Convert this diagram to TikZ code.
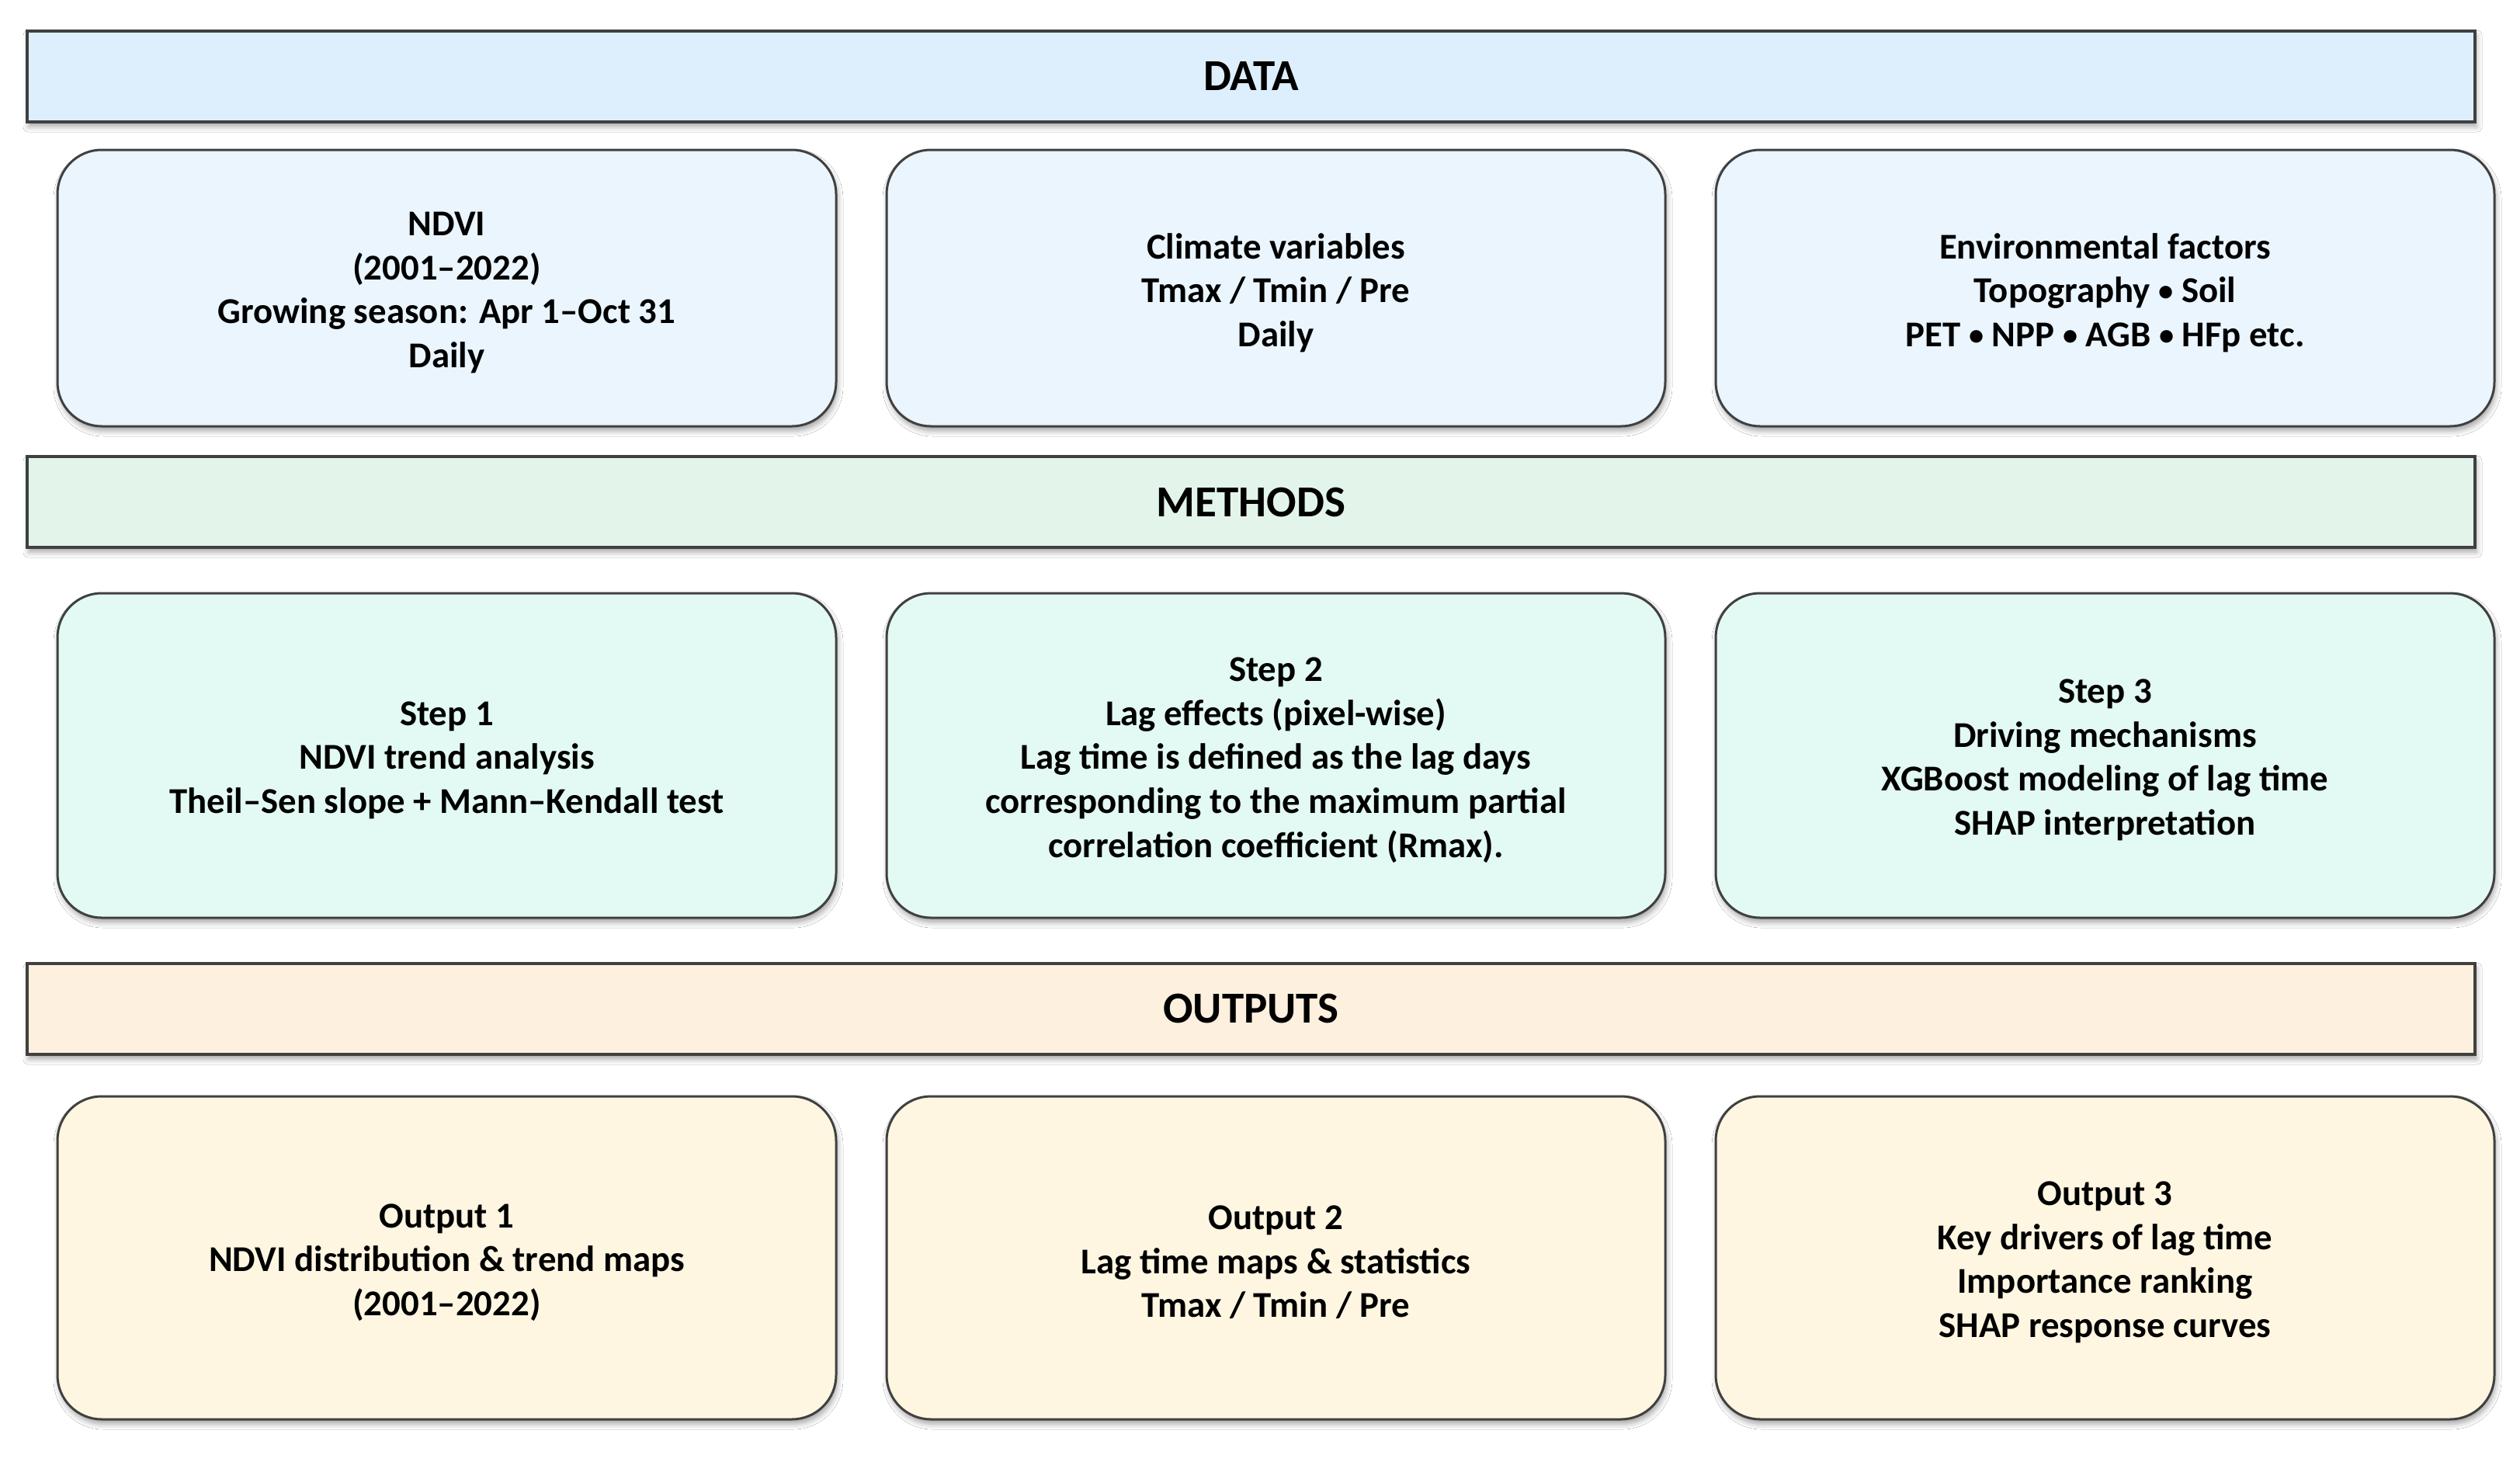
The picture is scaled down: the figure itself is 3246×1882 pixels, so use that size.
\documentclass[tikz,border=0pt]{standalone}
\usepackage{fontspec}
\setmainfont{Carlito}
\usetikzlibrary{shadows.blur}
\definecolor{edge}{HTML}{404040}
\definecolor{barA}{HTML}{DDEFFC}
\definecolor{boxA}{HTML}{EAF5FE}
\definecolor{barB}{HTML}{E3F5EA}
\definecolor{boxB}{HTML}{E2FAF3}
\definecolor{barC}{HTML}{FEF0DE}
\definecolor{boxC}{HTML}{FEF6E1}
\newcommand\mybul{\raisebox{2pt}{\scalebox{0.82}{•}}}
\tikzset{
  shad/.style={blur shadow={shadow xshift=2pt, shadow yshift=-6pt, shadow blur radius=7pt, shadow opacity=35}},
  bar/.style={shad, draw=edge, line width=4pt, rectangle, minimum width=3153pt, minimum height=117pt, inner sep=0pt,
    font=\fontsize{57}{67}\selectfont\bfseries},
  card/.style={shad, draw=edge, line width=3pt, rectangle, rounded corners=57pt, minimum width=1003pt, inner sep=0pt},
  cardtext/.style={align=center, inner sep=0pt, font=\fontsize{46.8}{56.6}\selectfont\bfseries},
}
\begin{document}
\begin{tikzpicture}[x=1pt,y=-1pt]
\useasboundingbox (0,0) rectangle (3246,1882);
\fill[white] (0,0) rectangle (3246,1882);
% bars
\node[bar, fill=barA] (data) at (1611.5,98.5) {DATA};
\node[bar, fill=barB] (methods) at (1611.5,646.5) {METHODS};
\node[bar, fill=barC] (outputs) at (1611.5,1299.5) {OUTPUTS};
% data row
\node[card, fill=boxA, minimum height=356pt] (d1) at (575.5,371) {};
\node[card, fill=boxA, minimum height=356pt] (d2) at (1643.5,371) {};
\node[card, fill=boxA, minimum height=356pt] (d3) at (2711.5,371) {};
\node[cardtext] (d1t) at ([yshift=-6pt]d1.center) {NDVI\\(2001–2022)\\Growing season: Apr 1–Oct 31\\Daily};
\node[cardtext] (d2t) at ([yshift=-6pt]d2.center) {Climate variables\\Tmax / Tmin / Pre\\Daily};
\node[cardtext] (d3t) at ([yshift=-6pt]d3.center) {Environmental factors\\Topography \mybul{} Soil\\PET \mybul{} NPP \mybul{} AGB \mybul{} HFp etc.};
% methods row
\node[card, fill=boxB, minimum height=418pt] (m1) at (575.5,973) {};
\node[card, fill=boxB, minimum height=418pt] (m2) at (1643.5,973) {};
\node[card, fill=boxB, minimum height=418pt] (m3) at (2711.5,973) {};
\node[cardtext] (m1t) at ([yshift=-6pt]m1.center) {Step 1\\NDVI trend analysis\\Theil–Sen slope + Mann–Kendall test};
\node[cardtext] (m2t) at ([yshift=-6pt]m2.center) {Step 2\\Lag effects (pixel-wise)\\Lag time is defined as the lag days\\corresponding to the maximum partial\\correlation coefficient (Rmax).};
\node[cardtext] (m3t) at ([yshift=-6pt]m3.center) {Step 3\\Driving mechanisms\\XGBoost modeling of lag time\\SHAP interpretation};
% outputs row
\node[card, fill=boxC, minimum height=416pt] (o1) at (575.5,1620) {};
\node[card, fill=boxC, minimum height=416pt] (o2) at (1643.5,1620) {};
\node[card, fill=boxC, minimum height=416pt] (o3) at (2711.5,1620) {};
\node[cardtext] (o1t) at ([yshift=-6pt]o1.center) {Output 1\\NDVI distribution \& trend maps\\(2001–2022)};
\node[cardtext] (o2t) at ([yshift=-6pt]o2.center) {Output 2\\Lag time maps \& statistics\\Tmax / Tmin / Pre};
\node[cardtext] (o3t) at ([yshift=-6pt]o3.center) {Output 3\\Key drivers of lag time\\Importance ranking\\SHAP response curves};
\end{tikzpicture}
\end{document}
